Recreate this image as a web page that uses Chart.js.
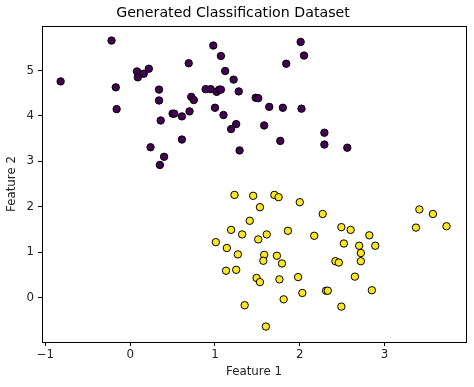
<!DOCTYPE html>
<html lang="en">
<head>
    <meta charset="UTF-8">
    <title>Generated Classification Dataset</title>
    <script src="https://cdn.jsdelivr.net/npm/chart.js@4.4.0/dist/chart.umd.min.js"></script>
    <style>
        html, body { margin: 0; padding: 0; background: #fff; }
        #wrap { width: 474px; height: 387px; }
    </style>
</head>
<body>
<div id="wrap"><canvas id="scatterChart" width="474" height="387"></canvas></div>
<script>
// Class 0 (purple)
const class0X = [-0.82, -0.22, -0.17, -0.16, 0.08, 0.09, 0.16, 0.22, 0.24, 0.34,
    0.34, 0.36, 0.35, 0.40, 0.50, 0.52, 0.61, 0.61, 0.70, 0.69,
    0.72, 0.75, 0.89, 0.95, 0.98, 1.00, 1.02, 1.05, 1.07, 1.07,
    1.10, 1.12, 1.19, 1.22, 1.25, 1.28, 1.29, 2.01, 2.05, 1.84,
    1.48, 1.51, 1.64, 1.80, 2.02, 1.58, 1.77, 2.29, 2.29, 2.56];
const class0Y = [4.76, 5.66, 4.63, 4.15, 4.98, 4.85, 4.93, 5.04, 3.31, 4.58,
    4.34, 3.90, 2.92, 3.10, 4.05, 4.05, 3.99, 3.48, 4.10, 5.16,
    4.42, 4.35, 4.59, 4.59, 5.55, 4.18, 4.53, 4.58, 4.58, 5.32,
    4.02, 4.99, 3.71, 4.80, 3.82, 4.54, 3.24, 5.63, 5.33, 5.15,
    4.40, 4.39, 4.20, 4.18, 4.16, 3.79, 3.45, 3.63, 3.37, 3.30];

// Class 1 (yellow)
const class1X = [1.23, 1.19, 1.01, 1.14, 1.27, 1.13, 1.25, 1.32, 1.45, 1.70,
    1.75, 2.00, 1.53, 2.27, 1.41, 3.41, 3.57, 3.37, 3.73, 1.51,
    1.61, 1.86, 2.17, 2.49, 2.60, 2.82, 2.52, 2.70, 2.89, 2.72,
    2.72, 1.58, 1.57, 1.73, 1.79, 2.42, 2.46, 1.49, 1.53, 1.76,
    1.98, 2.65, 2.03, 2.31, 2.33, 2.85, 1.35, 1.81, 2.49, 1.60];
const class1Y = [2.26, 1.49, 1.22, 1.09, 0.95, 0.59, 0.61, 1.39, 2.24, 2.26,
    2.21, 2.10, 1.99, 1.84, 1.69, 1.94, 1.84, 1.54, 1.57, 1.28,
    1.39, 1.47, 1.36, 1.55, 1.49, 1.37, 1.19, 1.14, 1.14, 0.98,
    0.80, 0.94, 0.81, 0.92, 0.75, 0.80, 0.77, 0.43, 0.34, 0.40,
    0.45, 0.46, 0.10, 0.15, 0.15, 0.16, -0.17, -0.04, -0.20, -0.64];

const xTicks = [-1, 0, 1, 2, 3];
const yTicks = [0, 1, 2, 3, 4, 5];

const toPoints = (xs, ys) => xs.map((x, i) => ({ x: x, y: ys[i] }));
// signo menos tipográfico, como matplotlib
const fmt = v => (v < 0 ? '\u2212' + Math.abs(v) : String(v));

// marco completo alrededor del área (como matplotlib)
const boxPlugin = {
    id: 'box',
    afterDraw(chart) {
        const a = chart.chartArea;
        const ctx = chart.ctx;
        ctx.save();
        ctx.strokeStyle = '#000';
        ctx.lineWidth = 1;
        ctx.strokeRect(Math.round(a.left) + 0.5, Math.round(a.top) + 0.5,
            Math.round(a.right - a.left), Math.round(a.bottom - a.top));
        ctx.restore();
    }
};

const tickFont = { family: 'DejaVu Sans', size: 11.8 };

new Chart(document.getElementById('scatterChart').getContext('2d'), {
    type: 'scatter',
    data: {
        datasets: [
            {
                data: toPoints(class0X, class0Y),
                backgroundColor: '#440154',
                borderColor: '#000',
                borderWidth: 1,
                pointRadius: 3.7
            },
            {
                data: toPoints(class1X, class1Y),
                backgroundColor: '#fde725',
                borderColor: '#000',
                borderWidth: 1,
                pointRadius: 3.7
            }
        ]
    },
    plugins: [boxPlugin],
    options: {
        responsive: false,
        animation: false,
        events: [],
        layout: { padding: { right: 8, left: 0, top: 0, bottom: 0 } },
        plugins: {
            legend: { display: false },
            tooltip: { enabled: false },
            title: {
                display: true,
                text: 'Generated Classification Dataset',
                color: '#000',
                font: { family: 'DejaVu Sans', size: 14.2, weight: 'normal' },
                padding: { top: 5, bottom: 4 }
            }
        },
        scales: {
            x: {
                type: 'linear',
                min: -1.04,
                max: 3.96,
                afterBuildTicks: s => { s.ticks = xTicks.map(v => ({ value: v })); },
                afterFit: s => { s.height = 45; },
                grid: { drawOnChartArea: false, drawTicks: true, tickLength: 4, color: '#000' },
                border: { display: false },
                ticks: { color: '#222', font: tickFont, padding: 2, maxRotation: 0, callback: fmt },
                title: { display: true, text: 'Feature 1', color: '#222', font: tickFont, padding: { top: 2, bottom: 8 } }
            },
            y: {
                type: 'linear',
                min: -0.98,
                max: 5.98,
                afterBuildTicks: s => { s.ticks = yTicks.map(v => ({ value: v })); },
                afterFit: s => { s.width = 42; },
                grid: { drawOnChartArea: false, drawTicks: true, tickLength: 4, color: '#000' },
                border: { display: false },
                ticks: { color: '#222', font: tickFont, padding: 4, callback: fmt },
                title: { display: true, text: 'Feature 2', color: '#222', font: tickFont, padding: { top: 5, bottom: 0 } }
            }
        }
    }
});
</script>
</body>
</html>
